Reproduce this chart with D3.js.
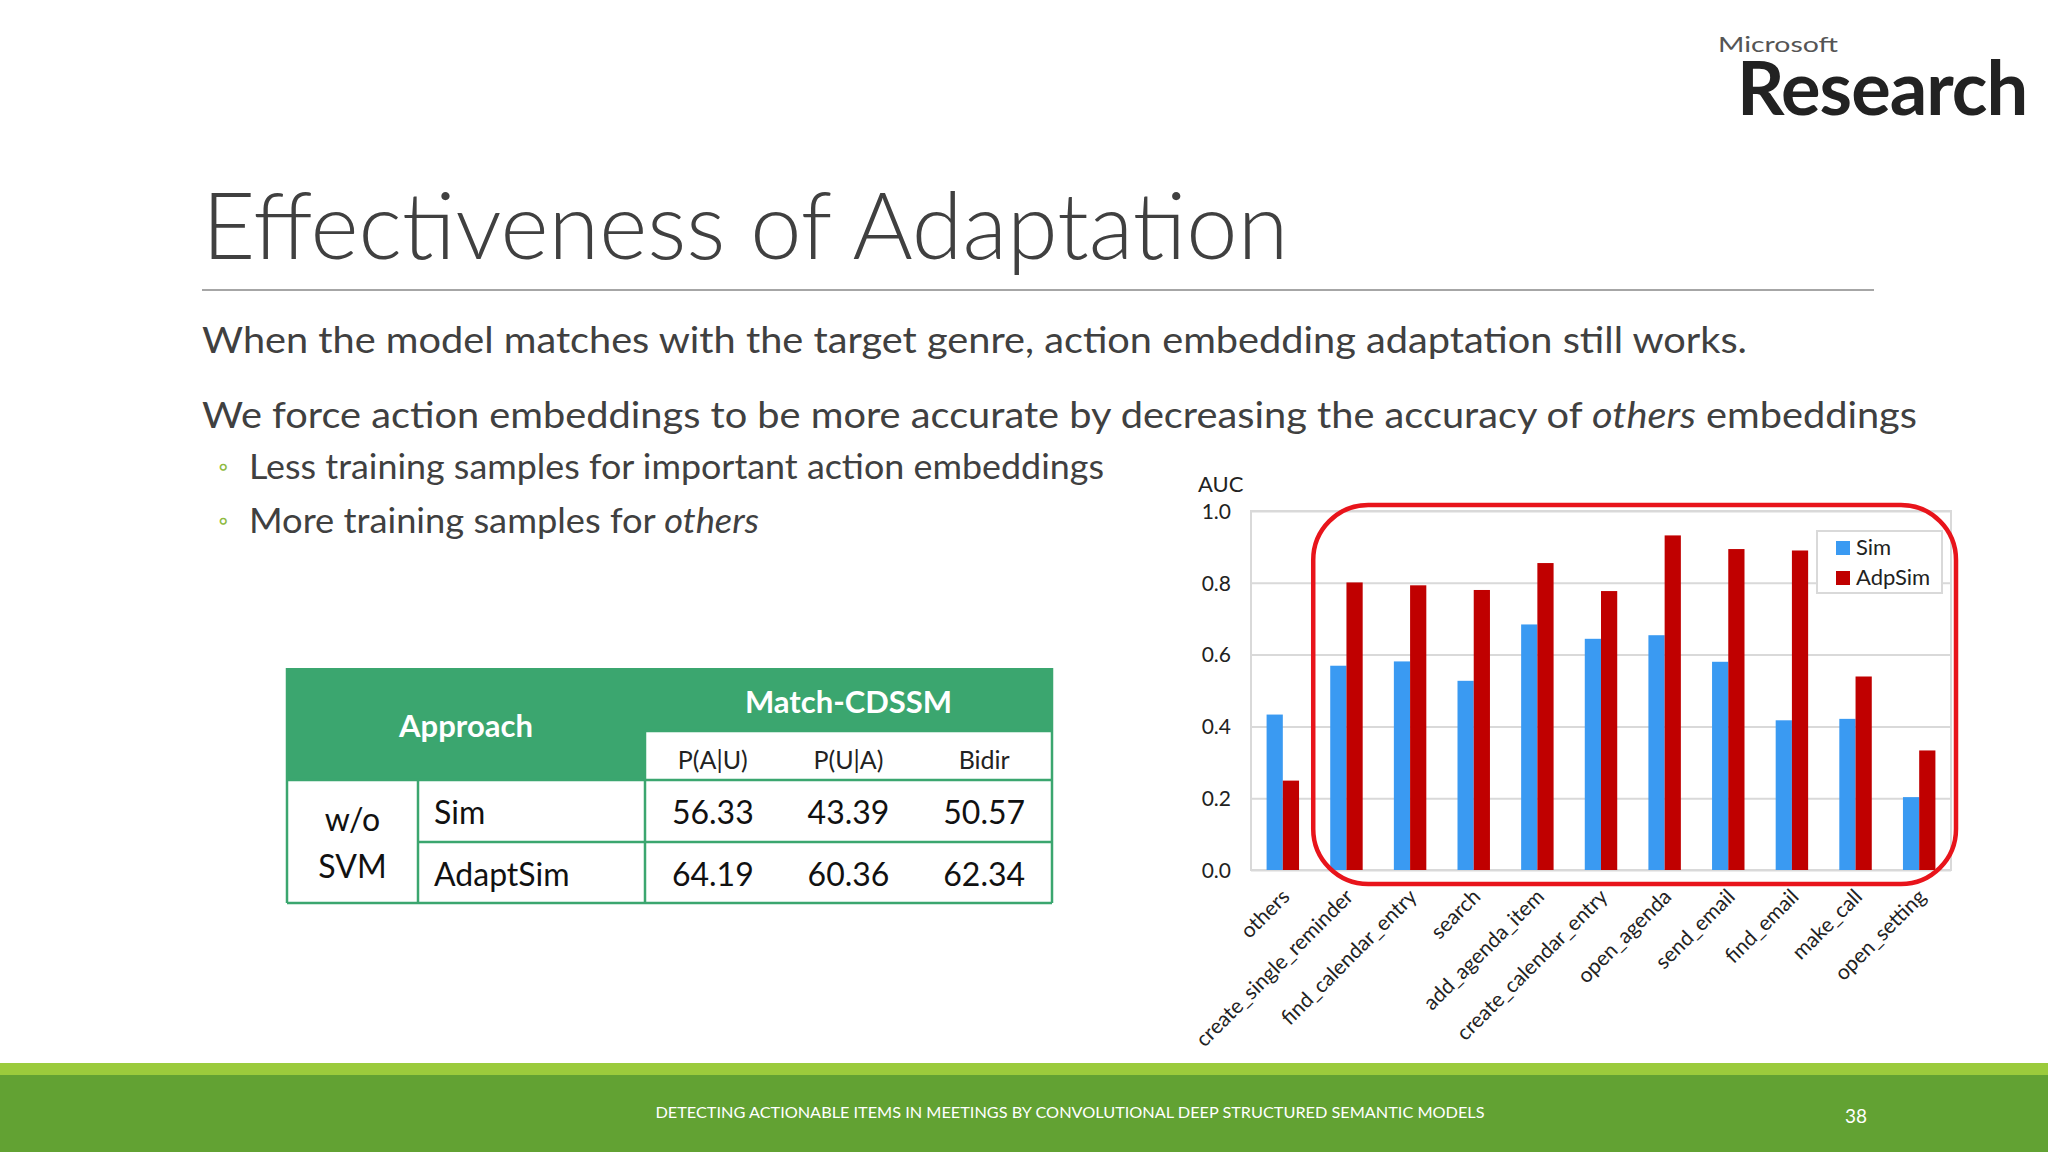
<!DOCTYPE html>
<html>
<head>
<meta charset="utf-8">
<script src="https://cdn.jsdelivr.net/npm/d3@7"></script>
<style>
  html, body { margin: 0; padding: 0; background: #fff; }
  svg { display: block; font-family: Lato, "Open Sans", sans-serif; }
</style>
</head>
<body>
<div id="slide"></div>
<script>
// chart data
var categories = ["others", "create_single_reminder", "find_calendar_entry", "search",
  "add_agenda_item", "create_calendar_entry", "open_agenda", "send_email",
  "find_email", "make_call", "open_setting"];
var simValues = [0.433, 0.569, 0.581, 0.527, 0.684, 0.644, 0.654, 0.580, 0.417, 0.421, 0.203];
var adpSimValues = [0.249, 0.801, 0.793, 0.780, 0.855, 0.777, 0.932, 0.894, 0.890, 0.539, 0.333];
var seriesNames = ["Sim", "AdpSim"];
var seriesColors = ["#3A9AF2", "#C00000"];
var yTicks = [0, 0.2, 0.4, 0.6, 0.8, 1.0];

// table data
var tableColumns = ["P(A|U)", "P(U|A)", "Bidir"];
var tableMethods = ["Sim", "AdaptSim"];
var tableSim = [56.33, 43.39, 50.57];
var tableAdaptSim = [64.19, 60.36, 62.34];

var W = 2048, H = 1152;
var textColor = "#404040";
var green = "#3BA66F";

var svg = d3.select("#slide").append("svg")
  .attr("width", W).attr("height", H);

svg.append("rect").attr("width", W).attr("height", H).attr("fill", "#fff");

// squeeze a text to a target width when the font runs wider/narrower
function fit(sel, w) {
  sel.each(function() {
    var len = this.getComputedTextLength();
    if (Math.abs(len - w) / w > 0.015) {
      d3.select(this).attr("textLength", w).attr("lengthAdjust", "spacingAndGlyphs");
    }
  });
  return sel;
}

// ---- logo
svg.append("text").attr("x", 1718).attr("y", 52)
  .attr("font-size", 21).attr("fill", "#555").text("Microsoft")
  .call(fit, 120);
svg.append("text").attr("x", 1737).attr("y", 115)
  .attr("font-size", 74).attr("font-weight", 700).attr("fill", "#222")
  .attr("letter-spacing", -1).text("Research")
  .call(fit, 287);

// ---- title and text
svg.append("text").attr("x", 202).attr("y", 259)
  .attr("font-size", 92).attr("font-weight", 300).attr("fill", textColor)
  .text("Effectiveness of Adaptation")
  .call(fit, 1082);
svg.append("line").attr("x1", 202).attr("x2", 1874).attr("y1", 290).attr("y2", 290)
  .attr("stroke", "#A6A6A6").attr("stroke-width", 2);

svg.append("text").attr("x", 202).attr("y", 353)
  .attr("font-size", 37).attr("fill", textColor)
  .text("When the model matches with the target genre, action embedding adaptation still works.")
  .call(fit, 1545);

var line2 = svg.append("text").attr("x", 202).attr("y", 428)
  .attr("font-size", 37).attr("fill", textColor);
line2.append("tspan").text("We force action embeddings to be more accurate by decreasing the accuracy of ");
line2.append("tspan").attr("font-style", "italic").text("others");
line2.append("tspan").text(" embeddings");
fit(line2, 1715);

var bullets = [
  [{t: "Less training samples for important action embeddings"}],
  [{t: "More training samples for "}, {t: "others", i: true}]
];
var bulletW = [855, 510];
bullets.forEach(function(parts, k) {
  var by = 479 + k * 54;
  svg.append("text").attr("x", 218).attr("y", by - 3)
    .attr("font-size", 26).attr("fill", "#8DBA3F").text("\u25E6");
  var t = svg.append("text").attr("x", 249).attr("y", by)
    .attr("font-size", 34).attr("fill", textColor);
  parts.forEach(function(p) {
    t.append("tspan").attr("font-style", p.i ? "italic" : null).text(p.t);
  });
  fit(t, bulletW[k]);
});

// ---- table
var tx = [287, 418, 645, 1052];
var ty = [668, 731, 780, 842, 903];
var colW = (tx[3] - tx[2]) / tableColumns.length;
var tbl = svg.append("g");

tbl.append("rect").attr("x", tx[0]).attr("y", ty[0])
  .attr("width", tx[3] - tx[0]).attr("height", ty[2] - ty[0]).attr("fill", green);
tbl.append("rect").attr("x", tx[2]).attr("y", ty[1])
  .attr("width", tx[3] - tx[2]).attr("height", ty[2] - ty[1]).attr("fill", "#fff");

var gl = [
  [tx[0], ty[2], tx[3], ty[2]],
  [tx[1], ty[3], tx[3], ty[3]],
  [tx[0], ty[4], tx[3], ty[4]],
  [tx[0], ty[0], tx[0], ty[4]],
  [tx[3], ty[0], tx[3], ty[4]],
  [tx[1], ty[2], tx[1], ty[4]],
  [tx[2], ty[1], tx[2], ty[4]],
  [tx[2], ty[1], tx[3], ty[1]]
];
tbl.selectAll("line.grid").data(gl).enter().append("line")
  .attr("x1", function(d) { return d[0]; }).attr("y1", function(d) { return d[1]; })
  .attr("x2", function(d) { return d[2]; }).attr("y2", function(d) { return d[3]; })
  .attr("stroke", green).attr("stroke-width", 2.5);

tbl.append("text").attr("x", (tx[0] + tx[2]) / 2).attr("y", 737)
  .attr("text-anchor", "middle").attr("font-size", 31).attr("font-weight", 700)
  .attr("fill", "#fff").text("Approach");
tbl.append("text").attr("x", (tx[2] + tx[3]) / 2).attr("y", 713)
  .attr("text-anchor", "middle").attr("font-size", 31).attr("font-weight", 700)
  .attr("fill", "#fff").text("Match-CDSSM");

tbl.selectAll("text.col").data(tableColumns).enter().append("text")
  .attr("x", function(d, i) { return tx[2] + colW * (i + 0.5); })
  .attr("y", 769).attr("text-anchor", "middle")
  .attr("font-size", 25).attr("fill", "#222").text(function(d) { return d; });

tbl.append("text").attr("x", (tx[0] + tx[1]) / 2).attr("y", 831)
  .attr("text-anchor", "middle").attr("font-size", 32).attr("fill", "#111").text("w/o");
tbl.append("text").attr("x", (tx[0] + tx[1]) / 2).attr("y", 878)
  .attr("text-anchor", "middle").attr("font-size", 32).attr("fill", "#111").text("SVM");

[tableSim, tableAdaptSim].forEach(function(vals, r) {
  var base = r === 0 ? 824 : 886;
  tbl.append("text").attr("x", 434).attr("y", base)
    .attr("font-size", 32).attr("fill", "#111").text(tableMethods[r]);
  tbl.selectAll("text.v" + r).data(vals).enter().append("text")
    .attr("x", function(d, i) { return tx[2] + colW * (i + 0.5); })
    .attr("y", base).attr("text-anchor", "middle")
    .attr("font-size", 32).attr("fill", "#111")
    .text(function(d) { return d3.format(".2f")(d); });
});

// ---- bar chart
var plot = {left: 1251, right: 1951, top: 511, bottom: 870};

var x0 = d3.scaleBand().domain(categories)
  .range([plot.left, plot.right]).paddingInner(0.49).paddingOuter(0.245);
var x1 = d3.scaleBand().domain(seriesNames).range([0, x0.bandwidth()]);
var y = d3.scaleLinear().domain([0, 1]).range([plot.bottom, plot.top]);
var color = d3.scaleOrdinal().domain(seriesNames).range(seriesColors);

var chart = svg.append("g");

chart.append("g").attr("class", "grid")
  .attr("transform", "translate(" + plot.left + ",0)")
  .call(d3.axisLeft(y).tickValues(yTicks).tickSize(-(plot.right - plot.left)).tickFormat(""))
  .call(function(g) {
    g.select(".domain").remove();
    g.selectAll("line").attr("stroke", "#D9D9D9").attr("stroke-width", 2);
  });

chart.append("rect").attr("x", plot.left).attr("y", plot.top)
  .attr("width", plot.right - plot.left).attr("height", plot.bottom - plot.top)
  .attr("fill", "none").attr("stroke", "#D9D9D9").attr("stroke-width", 2);

var rows = categories.map(function(c, i) {
  return {cat: c, vals: [{s: "Sim", v: simValues[i]}, {s: "AdpSim", v: adpSimValues[i]}]};
});

chart.selectAll("g.cat").data(rows).enter().append("g")
  .attr("class", "cat")
  .attr("transform", function(d) { return "translate(" + x0(d.cat) + ",0)"; })
  .selectAll("rect").data(function(d) { return d.vals; }).enter().append("rect")
  .attr("x", function(d) { return x1(d.s); })
  .attr("y", function(d) { return y(d.v); })
  .attr("width", x1.bandwidth())
  .attr("height", function(d) { return y(0) - y(d.v); })
  .attr("fill", function(d) { return color(d.s); });

chart.append("g")
  .attr("transform", "translate(" + (plot.left - 10) + ",0)")
  .call(d3.axisLeft(y).tickValues(yTicks).tickSize(0).tickFormat(d3.format(".1f")))
  .call(function(g) {
    g.select(".domain").remove();
    g.selectAll("text").attr("font-family", "Lato, sans-serif").attr("font-size", 21)
      .attr("fill", "#222").attr("dy", "0.35em").attr("x", -10);
  });

chart.append("text").attr("x", 1198).attr("y", 492)
  .attr("font-size", 22).attr("fill", "#222").text("AUC");

chart.append("g")
  .attr("transform", "translate(0," + plot.bottom + ")")
  .call(d3.axisBottom(x0).tickSize(0))
  .call(function(g) {
    g.select(".domain").remove();
    g.selectAll("text")
      .attr("font-family", "Lato, sans-serif").attr("font-size", 21).attr("fill", "#222")
      .attr("x", 0).attr("y", 0).attr("dy", 0)
      .attr("text-anchor", "end")
      .attr("transform", "translate(8,28) rotate(-45)");
  });

// legend
var leg = chart.append("g");
leg.append("rect").attr("x", 1817).attr("y", 531).attr("width", 125).attr("height", 62)
  .attr("fill", "#fff").attr("stroke", "#D9D9D9").attr("stroke-width", 2);
leg.selectAll("g.item").data(seriesNames).enter().append("g")
  .attr("class", "item")
  .attr("transform", function(d, i) { return "translate(1836," + (541 + i * 30) + ")"; })
  .each(function(d) {
    var g = d3.select(this);
    g.append("rect").attr("width", 14).attr("height", 14).attr("fill", color(d));
    g.append("text").attr("x", 20).attr("y", 14).attr("font-size", 22)
      .attr("fill", "#222").text(d);
  });

// red highlight around the action categories
var boxLeft = x0(categories[1]) - 17;
chart.append("rect")
  .attr("x", boxLeft).attr("y", y(1) - 6)
  .attr("width", plot.right + 5 - boxLeft).attr("height", y(0) - y(1) + 20)
  .attr("rx", 55).attr("ry", 55)
  .attr("fill", "none").attr("stroke", "#E8141B").attr("stroke-width", 4.5);

// ---- footer
svg.append("rect").attr("x", 0).attr("y", 1063).attr("width", W).attr("height", 12).attr("fill", "#9BCB3C");
svg.append("rect").attr("x", 0).attr("y", 1075).attr("width", W).attr("height", H - 1075).attr("fill", "#62A233");
svg.append("text").attr("x", 1070).attr("y", 1118).attr("text-anchor", "middle")
  .attr("font-size", 16).attr("fill", "#fff")
  .text("DETECTING ACTIONABLE ITEMS IN MEETINGS BY CONVOLUTIONAL DEEP STRUCTURED SEMANTIC MODELS")
  .call(fit, 829);
svg.append("text").attr("x", 1856).attr("y", 1123).attr("text-anchor", "middle")
  .attr("font-size", 19).attr("fill", "#fff").text("38");
</script>
</body>
</html>
